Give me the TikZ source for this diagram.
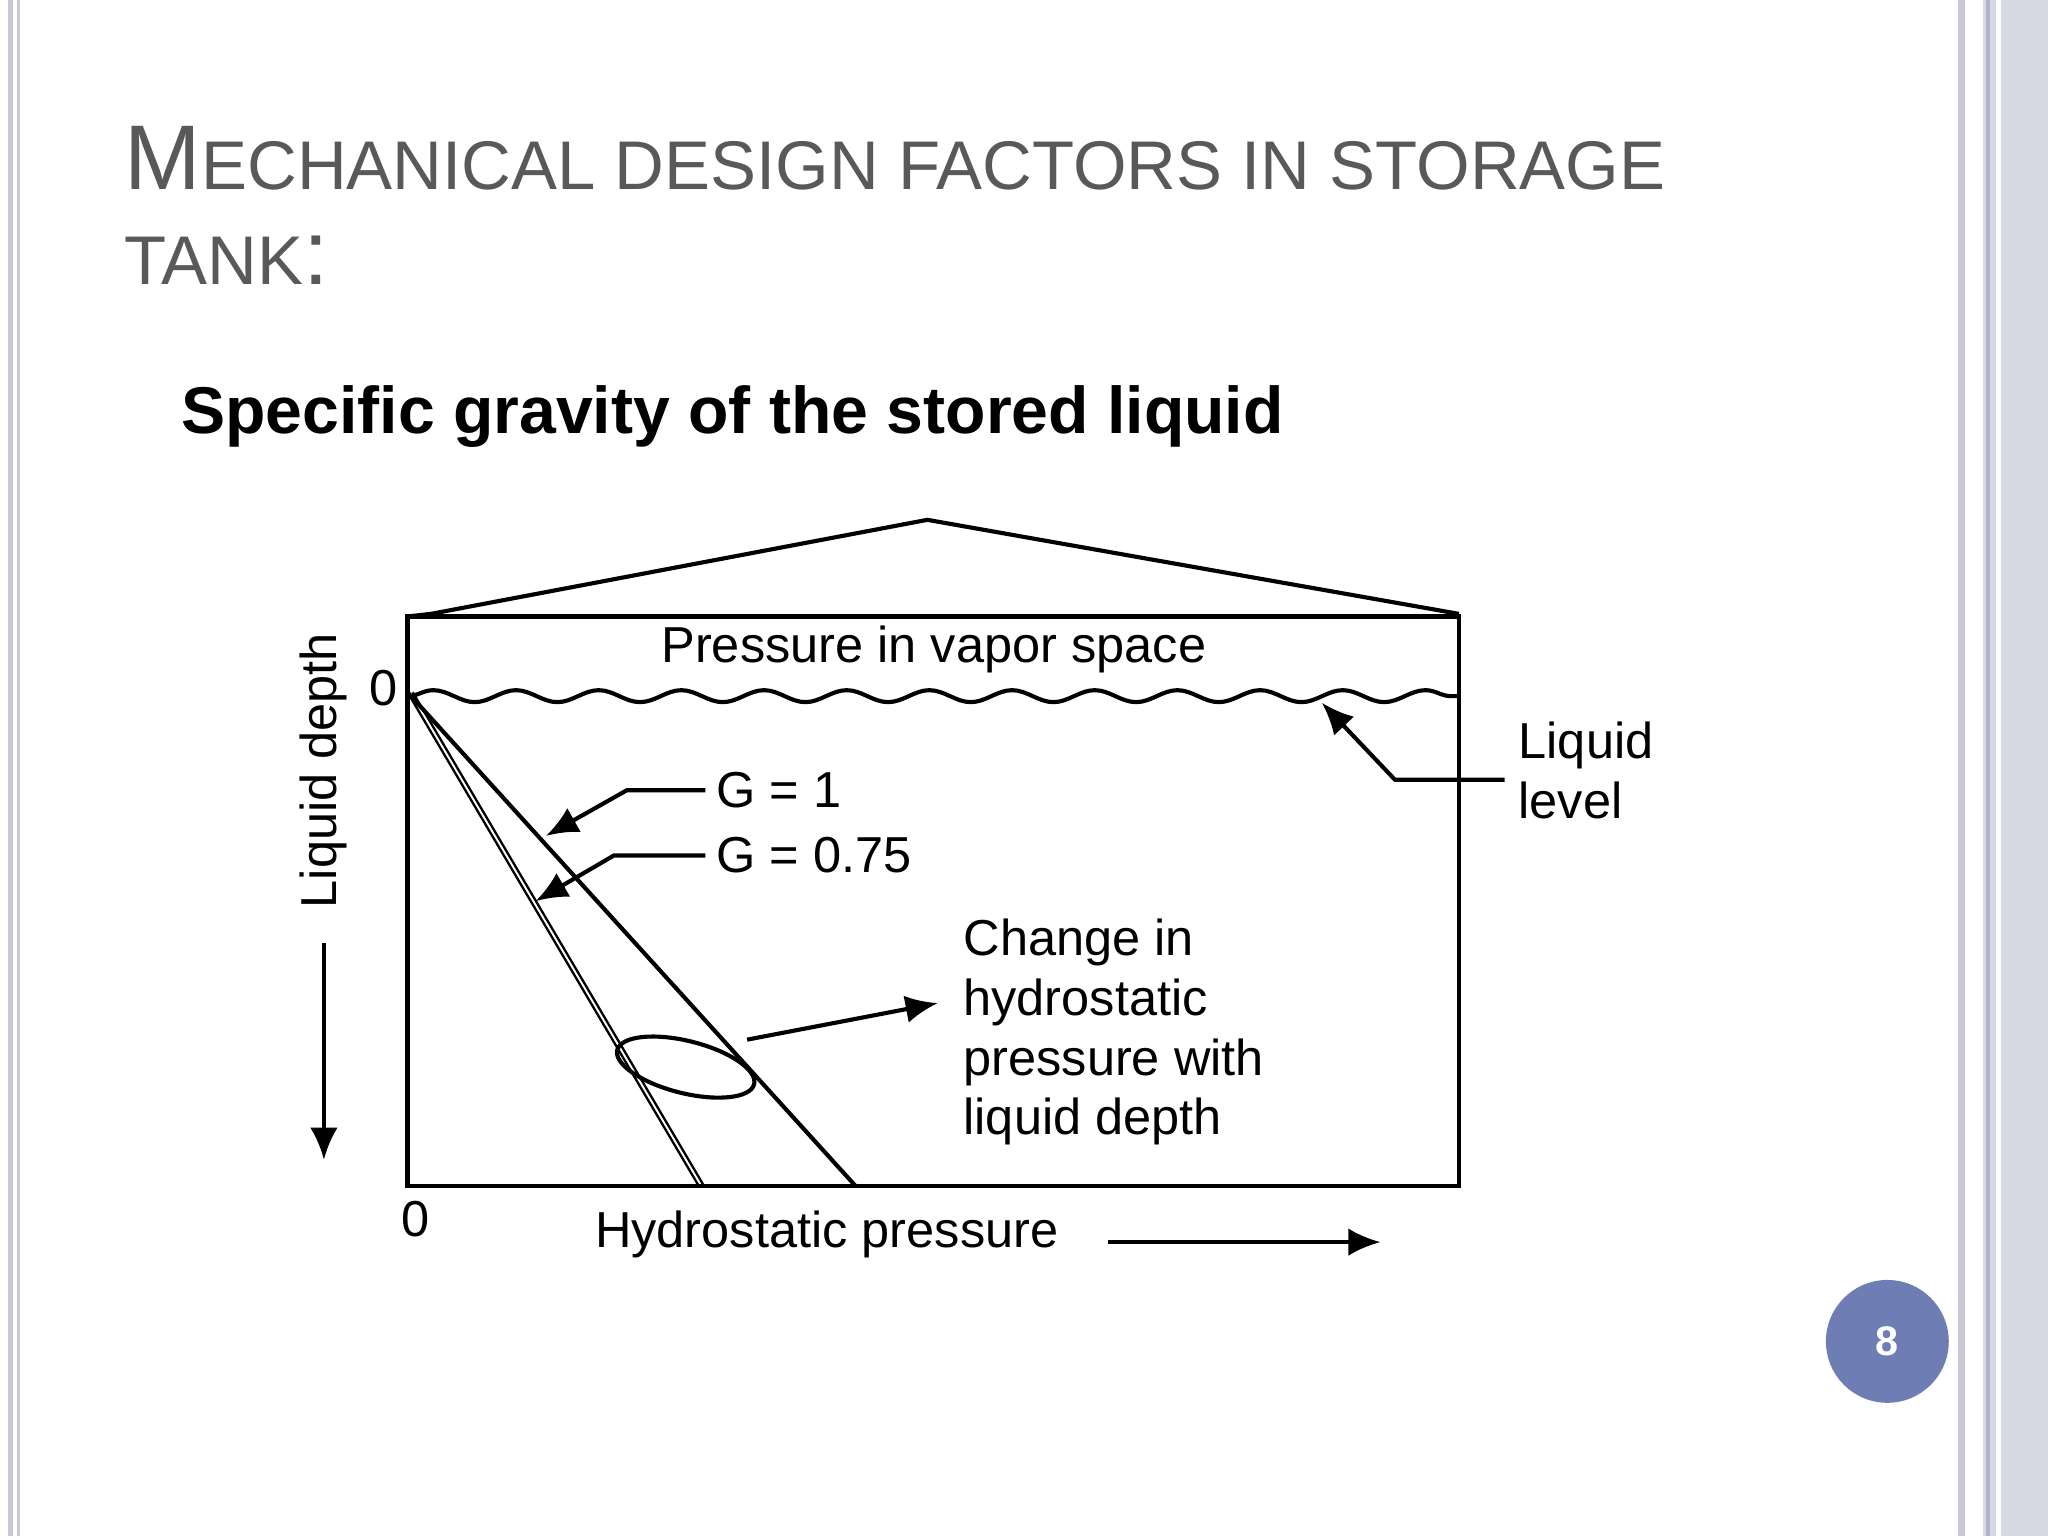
\documentclass[tikz,border=0pt]{standalone}
\usepackage{fontspec}
\setmainfont{Liberation Sans}
\usetikzlibrary{arrows.meta,decorations.pathmorphing}
\definecolor{titlegray}{HTML}{595959}
\definecolor{frame}{HTML}{C8C8D8}
\definecolor{badge}{HTML}{6F7DB5}
\tikzset{
  lbl/.style={anchor=west,font=\fontsize{11}{13}\selectfont,inner sep=0pt},
  ln/.style={line width=0.9pt},
  arr/.style={ln,-{Latex[length=7pt,width=6pt]}}
}
\begin{document}
\begin{tikzpicture}[x=0.01cm,y=-0.01cm]
\useasboundingbox (0,0) rectangle (1568,1176);
\fill[white] (0,0) rectangle (1568,1176);
% frame lines
\draw[frame,line width=1.2pt] (8,0) -- (8,1176);
\draw[frame,line width=0.6pt] (14,0) -- (14,1176);
\draw[frame,line width=1.5pt] (1502,0) -- (1502,1176);
\fill[frame!70] (1518,0) rectangle (1568,1176);
\draw[frame!140,line width=0.8pt] (1522,0) -- (1522,1176);
\draw[white,line width=1pt] (1530,0) -- (1530,1176);
% title
\node[anchor=base west,inner sep=0pt,text=titlegray] (t1) at (95,145)
  {\fontsize{20}{24}\selectfont M\fontsize{15}{18}\selectfont ECHANICAL DESIGN FACTORS IN STORAGE};
\node[anchor=base west,inner sep=0pt,text=titlegray] (t2) at (95,218)
  {\fontsize{15}{18}\selectfont TANK\fontsize{20}{24}\selectfont :};
\node[anchor=base west,inner sep=0pt] (sub) at (138,332)
  {\fontsize{14.4}{17}\selectfont\bfseries Specific gravity of the stored liquid};
% tank
\coordinate (tl) at (312,472); \coordinate (br) at (1117,908);
\draw[ln] (tl) rectangle (br);
\coordinate (r1) at (330,470); \coordinate (apex) at (710,398); \coordinate (r2) at (1117,470);
\draw[ln] (tl) -- (r1) -- (apex) -- (r2);
\draw[ln,decorate,decoration={snake,amplitude=1.3pt,segment length=18pt}] (312,533) -- (1117,533);
\node[lbl,anchor=center] (vap) at (715,497) {Pressure in vapor space};
\node[lbl,anchor=center] (z1) at (294,527) {0};
\node[lbl,anchor=center] (z2) at (318,933) {0};
% pressure lines
\coordinate (o) at (312,530);
\coordinate (g1) at (655,908); \coordinate (g2) at (535,908);
\draw[ln] (o) -- (g1);
\draw[line width=0.5pt] (o) -- (g2);
\draw[line width=0.5pt] (316,530) -- (539,908);
% labels G
\node[lbl] (G1) at (548,605) {G = 1};
\node[lbl] (G2) at (548,655) {G = 0.75};
\draw[arr] (G1.west) ++(-8,0) -- (480,605) -- (418,640);
\draw[arr] (G2.west) ++(-8,0) -- (470,655) -- (410,690);
% ellipse and arrow
\draw[ln,rotate around={-14:(525,817)}] (525,817) ellipse (54 and 20);
\coordinate (es) at (572,796);
\node[lbl,align=left,anchor=north west] (chg) at (737,703) {Change in\\hydrostatic\\pressure with\\liquid depth};
\draw[arr] (es) -- (718,768);
% liquid level
\node[lbl,align=left,anchor=north west] (ll) at (1162,552) {Liquid\\level};
\draw[arr] (1152,597) -- (1068,597) -- (1012,538);
% axes
\node[lbl,anchor=center,rotate=90] (ld) at (248,590) {Liquid depth};
\draw[arr] (248,722) -- (248,888);
\node[lbl,anchor=center] (hp) at (633,945) {Hydrostatic pressure};
\draw[arr] (848,951) -- (1057,951);
% page number
\node[circle,fill=badge,minimum size=0.94cm,text=white,font=\fontsize{9}{11}\selectfont\bfseries] (pg) at (1445,1027) {8};
\end{tikzpicture}
\end{document}
